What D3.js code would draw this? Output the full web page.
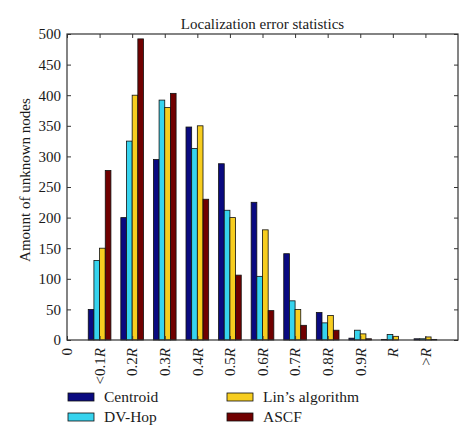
<!DOCTYPE html>
<html>
<head>
<meta charset="utf-8">
<script src="https://cdn.jsdelivr.net/npm/d3@7"></script>
<style>
  html, body { margin: 0; padding: 0; background: #fff; }
  svg { display: block; }
  text { font-family: "Liberation Serif", "DejaVu Serif", serif; fill: #1a1a1a; }
</style>
</head>
<body>
<svg id="chart" width="474" height="443"></svg>
<script>
const categories = ["0", "<0.1R", "0.2R", "0.3R", "0.4R", "0.5R", "0.6R", "0.7R", "0.8R", "0.9R", "R", ">R"];
const seriesNames = ["Centroid", "DV-Hop", "Lin\u2019s algorithm", "ASCF"];
const centroid = [0, 50, 200, 295, 348, 288, 225, 141, 45, 3, 1, 2];
const dvHop    = [0, 130, 325, 392, 313, 212, 104, 64, 28, 16, 9, 2];
const lins     = [0, 150, 400, 380, 350, 200, 180, 50, 40, 10, 6, 5];
const ascf     = [0, 277, 492, 403, 230, 106, 48, 24, 16, 2, 0, 1];
const yTicks = [0, 50, 100, 150, 200, 250, 300, 350, 400, 450, 500];
const colors = ["#0a0a80", "#36d3ee", "#f7cd1f", "#700000"];

const seriesValues = [centroid, dvHop, lins, ascf];

const svg = d3.select("#chart");
const L = 67, R = 458, T = 34, B = 340;

const x = d3.scaleLinear().domain([0, categories.length]).range([L, R]);
const y = d3.scaleLinear().domain([0, 500]).range([B, T]);
const barW = 0.174; // in category units
const fontSize = 15;

// bars
seriesValues.forEach((vals, si) => {
  svg.append("g").selectAll("rect")
    .data(vals.map((v, i) => ({ v, i })))
    .join("rect")
    .filter(d => d.v > 0)
    .attr("x", d => x(d.i + (si - 2) * barW))
    .attr("width", d => x(barW) - x(0))
    .attr("y", d => y(d.v))
    .attr("height", d => y(0) - y(d.v))
    .attr("fill", colors[si])
    .attr("stroke", "#111")
    .attr("stroke-width", 0.8);
});

const tickIdx = d3.range(categories.length);

// axes with inward ticks
const gl = svg.append("g").attr("transform", `translate(${L},0)`)
  .call(d3.axisLeft(y).tickValues(yTicks).tickSizeInner(-4).tickSizeOuter(0).tickPadding(6));
const gr = svg.append("g").attr("transform", `translate(${R},0)`)
  .call(d3.axisRight(y).tickValues(yTicks).tickSizeInner(-4).tickSizeOuter(0).tickFormat(""));
const gt = svg.append("g").attr("transform", `translate(0,${T})`)
  .call(d3.axisTop(x).tickValues(tickIdx).tickSizeInner(-4).tickSizeOuter(0).tickFormat(""));
const gb = svg.append("g").attr("transform", `translate(0,${B})`)
  .call(d3.axisBottom(x).tickValues(tickIdx).tickSizeInner(-4).tickSizeOuter(0).tickFormat(""));

[gl, gr, gt, gb].forEach(g => {
  g.select(".domain").remove();
  g.selectAll(".tick line").attr("stroke", "#333").attr("stroke-width", 1);
});
gl.selectAll(".tick text")
  .style("font-family", '"Liberation Serif", serif')
  .style("font-size", fontSize + "px")
  .attr("fill", "#1a1a1a");

// frame
svg.append("rect")
  .attr("x", L).attr("y", T)
  .attr("width", R - L).attr("height", B - T)
  .attr("fill", "none").attr("stroke", "#333").attr("stroke-width", 1.2);

// rotated x labels
const xl = svg.append("g");
categories.forEach((c, i) => {
  const t = xl.append("text")
    .attr("transform", `translate(${x(i)},${B + 8}) rotate(-90)`)
    .attr("text-anchor", "end")
    .attr("dy", "0.35em")
    .style("font-size", fontSize + "px");
  if (c.endsWith("R")) {
    const pre = c.slice(0, -1);
    if (pre) t.append("tspan").text(pre);
    t.append("tspan").attr("font-style", "italic").text("R");
  } else {
    t.text(c);
  }
});

// title
svg.append("text")
  .attr("x", (L + R) / 2).attr("y", 29)
  .attr("text-anchor", "middle")
  .style("font-size", fontSize + "px")
  .text("Localization error statistics");

// y label
svg.append("text")
  .attr("transform", `translate(30,180) rotate(-90)`)
  .attr("text-anchor", "middle")
  .style("font-size", fontSize + "px")
  .text("Amount of unknown nodes");

// legend
const legPos = [[68, 393], [68, 413], [227, 393], [227, 413]];
seriesNames.forEach((name, i) => {
  const [lx, ly] = legPos[i];
  svg.append("rect")
    .attr("x", lx).attr("y", ly)
    .attr("width", 26).attr("height", 8)
    .attr("fill", colors[i]).attr("stroke", "#111").attr("stroke-width", 0.8);
  svg.append("text")
    .attr("x", lx + 36).attr("y", ly + 9)
    .style("font-size", "15.5px")
    .text(name);
});
</script>
</body>
</html>
